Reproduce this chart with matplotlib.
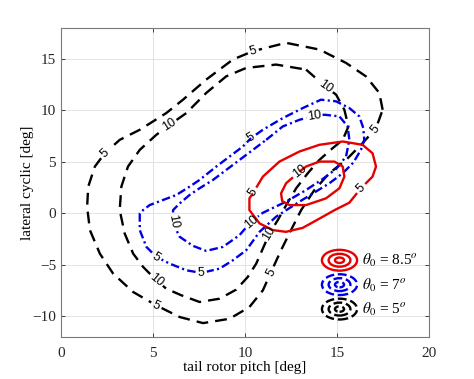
import numpy as np
import matplotlib
matplotlib.use("Agg")
import matplotlib.pyplot as plt
from matplotlib.contour import ContourSet
from matplotlib.legend_handler import HandlerBase
from matplotlib.lines import Line2D
from matplotlib.patches import Ellipse

# contour paths: (tail rotor pitch, lateral cyclic) in deg
black_5 = [(17.48, 10.06), (17.30, 11.69), (16.57, 13.31), (15.49, 14.61), (14.04, 15.91),
           (12.23, 16.56), (10.43, 15.75), (9.34, 14.94), (7.89, 12.99), (6.63, 11.04),
           (5.72, 9.74), (4.28, 8.12), (3.19, 7.14), (2.38, 5.84), (1.84, 4.55),
           (1.48, 2.60), (1.42, 0.65), (1.57, -1.62), (2.11, -3.90), (2.83, -5.84),
           (3.92, -7.63), (5.18, -8.93), (6.45, -10.06), (7.72, -10.65), (9.16, -10.23),
           (10.24, -9.09), (10.97, -7.47), (11.42, -5.68), (11.96, -3.57), (12.50, -1.62),
           (13.05, 0.32), (13.77, 2.27), (14.58, 3.90), (15.49, 5.19), (16.39, 6.82),
           (17.12, 8.28), (17.48, 10.06)]
black_10 = [(13.32, 13.96), (14.40, 12.27), (14.95, 11.53), (15.40, 10.06), (15.62, 8.44),
            (15.31, 7.14), (14.76, 6.33), (14.04, 5.19), (13.41, 3.90), (12.78, 2.44),
            (12.24, 0.81), (11.78, -0.65), (11.33, -1.95), (10.97, -3.41), (10.61, -4.87),
            (10.15, -6.17), (9.52, -7.40), (8.62, -8.28), (7.53, -8.60), (6.54, -7.95),
            (5.72, -7.31), (5.18, -6.49), (4.46, -5.19), (3.92, -3.90), (3.46, -1.95),
            (3.19, 0.32), (3.28, 2.60), (3.64, 4.55), (4.28, 6.17), (5.18, 7.63),
            (5.90, 8.60), (6.81, 9.74), (7.89, 11.69), (8.98, 13.31), (10.06, 14.12),
            (11.69, 14.45), (13.32, 13.96)]
blue_5 = [(10.33, 7.31), (10.97, 8.12), (12.05, 9.25), (13.14, 10.23), (14.13, 11.04),
          (14.95, 10.88), (15.67, 10.23), (16.21, 9.42), (16.43, 8.28), (16.48, 7.14),
          (16.30, 6.17), (15.89, 4.94), (15.31, 3.90), (14.58, 2.92), (12.96, 1.14),
          (11.69, -0.32), (10.79, -1.79), (10.07, -3.57), (9.34, -4.55), (8.62, -5.36),
          (7.62, -5.78), (6.81, -5.52), (5.90, -4.87), (5.18, -4.22), (4.64, -3.25),
          (4.28, -1.62), (4.28, 0.0), (4.46, 0.32), (4.82, 0.81), (5.54, 1.30),
          (6.27, 1.79), (6.99, 2.60), (7.53, 3.25), (8.44, 4.55), (9.16, 5.52),
          (9.88, 6.49), (10.33, 7.31)]
blue_10 = [(11.15, 7.14), (12.05, 8.44), (12.96, 9.09), (13.77, 9.48), (14.32, 9.58),
           (15.13, 9.42), (15.58, 8.44), (15.67, 7.14), (15.49, 5.52), (14.95, 4.32),
           (14.22, 3.34), (13.32, 2.27), (12.23, 1.14), (10.97, 0.06), (10.33, -0.81),
           (9.70, -2.11), (8.80, -3.25), (7.89, -3.64), (7.17, -3.15), (6.45, -2.27),
           (6.09, -0.97), (6.09, 0.32), (6.45, 0.97), (6.99, 1.79), (7.53, 2.44),
           (8.26, 3.25), (8.98, 4.22), (9.70, 5.19), (10.43, 6.17), (11.15, 7.14)]
red_5 = [(10.43, 1.95), (10.97, 3.57), (11.87, 5.03), (12.96, 6.01), (14.04, 6.66),
         (15.31, 6.98), (16.39, 6.66), (16.93, 5.84), (17.12, 4.55), (16.93, 3.57),
         (16.30, 2.44), (15.67, 1.04), (14.90, 0.35), (14.10, -0.45), (13.14, -1.40),
         (12.23, -1.79), (11.51, -1.62), (10.79, -0.97), (10.24, 0.32), (10.24, 1.46),
         (10.43, 1.95)]
red_10 = [(12.96, 4.06), (12.23, 2.92), (11.96, 1.95), (12.02, 1.20), (12.42, 0.81),
          (13.32, 0.81), (14.40, 1.46), (15.13, 2.44), (15.40, 3.57), (15.31, 4.55),
          (14.86, 5.03), (14.04, 5.03), (13.32, 4.55), (12.96, 4.06)]

levels = [5, 10]

# where the inline labels sit
black_labels = [(10.43, 15.9), (17.12, 8.1), (2.38, 5.84), (5.18, -8.93), (11.42, -5.7),
                (14.4, 12.27), (5.9, 8.6), (5.18, -6.49), (11.33, -1.95)]
blue_labels = [(10.33, 7.31), (5.18, -4.22), (7.62, -5.78),
               (13.77, 9.48), (6.09, -0.81), (10.33, -0.81)]
red_labels = [(10.43, 2.0), (16.3, 2.44), (12.96, 4.06)]

legend_names = [r"$\theta_0$ = 8.5$^o$", r"$\theta_0$ = 7$^o$", r"$\theta_0$ = 5$^o$"]


class HandlerRings(HandlerBase):
    def create_artists(self, legend, orig_handle, xdescent, ydescent,
                       width, height, fontsize, trans):
        cx = width / 2 - xdescent
        cy = height / 2 - ydescent
        arts = []
        for f in (1.0, 0.62, 0.26):
            e = Ellipse((cx, cy), width * f, height * 1.25 * f, fill=False,
                        ec=orig_handle.get_color(), ls=orig_handle.get_linestyle(),
                        lw=orig_handle.get_linewidth())
            e.set_transform(trans)
            arts.append(e)
        return arts


plt.rcParams['font.family'] = 'Liberation Serif'
plt.rcParams['mathtext.fontset'] = 'stix'

fig = plt.figure(figsize=(4.74, 3.79), dpi=100)
ax = fig.add_axes([0.1287, 0.1108, 0.7764, 0.8153])

lw = 1.7
dash_black = (0, (5.0, 3.0))
dash_blue = (0, (3.6, 1.4, 0.9, 1.4))

styles = [
    (black_5, black_10, 'k', dash_black, black_labels),
    (blue_5, blue_10, '#0000e6', dash_blue, blue_labels),
    (red_5, red_10, '#e60000', 'solid', red_labels),
]
for seg5, seg10, col, ls, labs in styles:
    cs = ContourSet(ax, levels, [[np.array(seg5)], [np.array(seg10)]],
                    colors=col, linewidths=lw, linestyles=[ls])
    txts = ax.clabel(cs, fmt='%d', fontsize=9, colors='k', inline=True,
                     inline_spacing=4, manual=labs)
    for t in txts:
        t.set_fontfamily('Liberation Sans')

ax.set_xlim(0, 20)
ax.set_ylim(-12, 18)
ax.set_xticks([0, 5, 10, 15, 20])
ax.set_yticks([-10, -5, 0, 5, 10, 15])
ax.grid(True, color='#e3e3e3', lw=0.7)
ax.set_axisbelow(True)
ax.tick_params(direction='in', top=True, right=True, labelsize=11, colors='#262626',
               length=3, width=0.6)
ax.tick_params(axis='x', pad=7)
for s in ax.spines.values():
    s.set_color('#7a7a7a')
    s.set_linewidth(0.8)
ax.set_xlabel('tail rotor pitch [deg]', fontsize=11, labelpad=1)
ax.set_ylabel('lateral cyclic [deg]', fontsize=11, labelpad=-1)

handles = [Line2D([], [], color='#e60000', ls='solid', lw=lw),
           Line2D([], [], color='#0000e6', ls=dash_blue, lw=lw),
           Line2D([], [], color='k', ls=dash_black, lw=lw)]
ax.legend(handles, legend_names, handler_map={Line2D: HandlerRings()},
          loc='upper left', bbox_to_anchor=(0.68, 0.31), frameon=False,
          fontsize=11, handlelength=2.3, handleheight=1.3, labelspacing=0.45,
          handletextpad=0.3, borderpad=0.2)

fig.savefig('out.png', dpi=100)
